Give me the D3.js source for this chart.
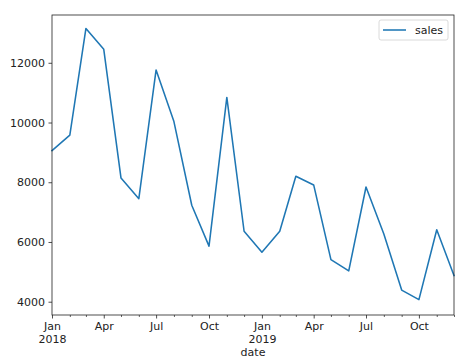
<!DOCTYPE html>
<html><head><meta charset="utf-8">
<script src="https://cdn.jsdelivr.net/npm/d3@7"></script>
<style>html,body{margin:0;padding:0;background:#fff}svg{display:block}</style>
</head><body>
<svg id="c" width="474" height="362"></svg>
<script>
const months = ["2018-01","2018-02","2018-03","2018-04","2018-05","2018-06","2018-07","2018-08","2018-09","2018-10","2018-11","2018-12",
                "2019-01","2019-02","2019-03","2019-04","2019-05","2019-06","2019-07","2019-08","2019-09","2019-10","2019-11","2019-12"];
const sales = [9060, 9580, 13150, 12450, 8140, 7450, 11760, 10030, 7230, 5860, 10840, 6360,
               5660, 6360, 8200, 7910, 5410, 5030, 7840, 6270, 4390, 4070, 6410, 4880];
const yTicks = [4000, 6000, 8000, 10000, 12000];
const xMajorLabels = ["Jan", "Apr", "Jul", "Oct"];
const seriesName = "sales";

const W = 474, H = 362;
const m = {left: 52, right: 20, top: 15, bottom: 47};
const parse = d3.timeParse("%Y-%m");
const data = months.map((d, i) => ({date: parse(d), value: sales[i]}));
const svg = d3.select("#c");
const font = "'DejaVu Sans', sans-serif";
const fs = 11;

const x = d3.scaleTime()
  .domain(d3.extent(data, d => d.date))
  .range([m.left, W - m.right]);
const y = d3.scaleLinear().domain([3555, 13600]).range([H - m.bottom, m.top]);

const line = d3.line().x(d => x(d.date)).y(d => y(d.value));
svg.append("path").datum(data)
  .attr("d", line).attr("fill", "none")
  .attr("stroke", "#1f77b4").attr("stroke-width", 1.55)
  .attr("stroke-linejoin", "round").attr("stroke-linecap", "square");

// y axis
const yAxis = d3.axisLeft(y).tickValues(yTicks).tickSize(3.5).tickPadding(3.5).tickFormat(d3.format("d"));
const gy = svg.append("g").attr("transform", `translate(${m.left},0)`).call(yAxis);
gy.select(".domain").remove();
gy.selectAll("line").attr("stroke", "#222").attr("stroke-width", 0.8);
gy.selectAll("text").attr("font-family", font).attr("font-size", fs).attr("fill", "#222");

// x axis minor
const minor = data.map(d => d.date).filter(d => d.getMonth() % 3 !== 0);
const major = data.map(d => d.date).filter(d => d.getMonth() % 3 === 0);
const xMinor = d3.axisBottom(x).tickValues(minor).tickSize(2).tickFormat("");
const gxm = svg.append("g").attr("transform", `translate(0,${H - m.bottom})`).call(xMinor);
gxm.select(".domain").remove();
gxm.selectAll("line").attr("stroke", "#222").attr("stroke-width", 0.7);

const xMajor = d3.axisBottom(x).tickValues(major).tickSize(3.5).tickPadding(3.5)
  .tickFormat(d => xMajorLabels[d.getMonth() / 3]);
const gx = svg.append("g").attr("transform", `translate(0,${H - m.bottom})`).call(xMajor);
gx.select(".domain").remove();
gx.selectAll("line").attr("stroke", "#222").attr("stroke-width", 0.8);
gx.selectAll("text").attr("font-family", font).attr("font-size", fs).attr("fill", "#222");
gx.selectAll(".tick").filter(d => d.getMonth() === 0).append("text")
  .attr("y", 3.5 + 3.5 + 13).attr("dy", "0.71em").attr("text-anchor", "middle")
  .attr("font-family", font).attr("font-size", fs).attr("fill", "#222")
  .text(d => d.getFullYear());

// spines
svg.append("rect").attr("x", m.left).attr("y", m.top)
  .attr("width", W - m.right - m.left).attr("height", H - m.bottom - m.top)
  .attr("fill", "none").attr("stroke", "#222").attr("stroke-width", 0.8);

// x label
svg.append("text").attr("x", (m.left + W - m.right) / 2).attr("y", 356)
  .attr("text-anchor", "middle").attr("font-family", font).attr("font-size", fs)
  .attr("fill", "#222").text("date");

// legend
const lg = svg.append("g").attr("transform", "translate(379,20)");
lg.append("rect").attr("width", 69).attr("height", 20).attr("rx", 2)
  .attr("fill", "#fff").attr("fill-opacity", 0.8).attr("stroke", "#d0d0d0").attr("stroke-width", 0.8);
lg.append("line").attr("x1", 4).attr("x2", 27).attr("y1", 10).attr("y2", 10)
  .attr("stroke", "#1f77b4").attr("stroke-width", 1.55);
lg.append("text").attr("x", 36).attr("y", 10).attr("dy", "0.35em")
  .attr("font-family", font).attr("font-size", fs).attr("fill", "#222").text(seriesName);
</script>
</body></html>
